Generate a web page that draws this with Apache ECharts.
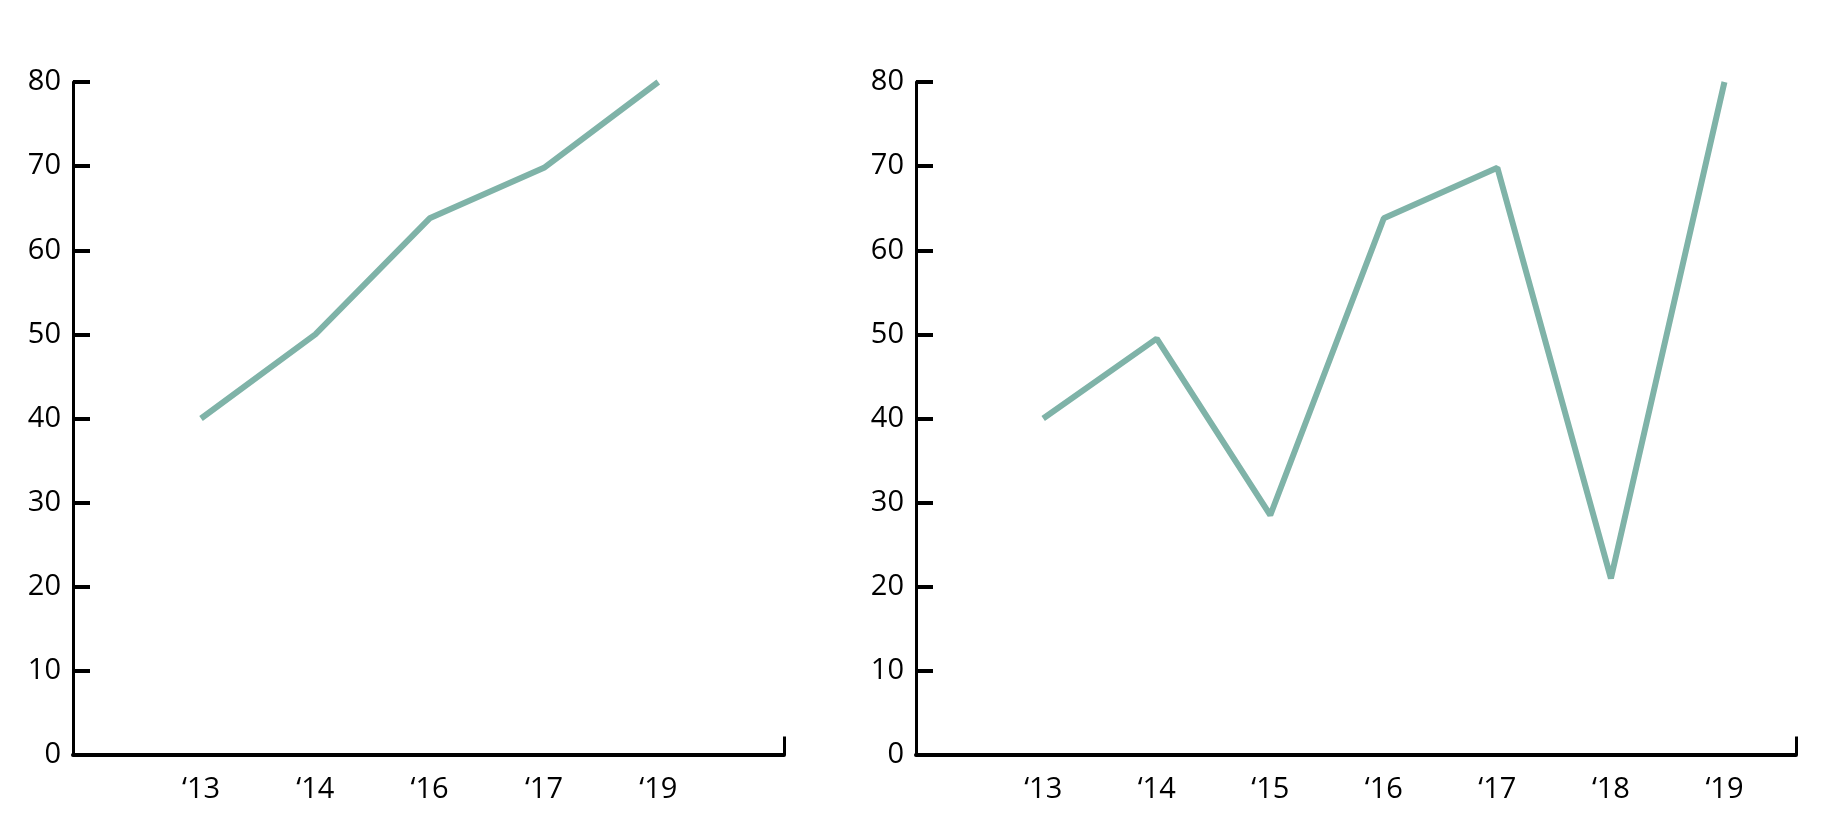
<!DOCTYPE html><html><head><meta charset="utf-8"><script src="https://cdn.jsdelivr.net/npm/echarts@6/dist/echarts.min.js"></script><style>html,body{margin:0;background:#fff}#c{width:1841px;height:836px}</style></head><body><div id="c"></div><script>
const leftCats=['‘13','‘14','‘16','‘17','‘19'];
const leftVals=[40,50,63.8,69.8,80];
const rightCats=['‘13','‘14','‘15','‘16','‘17','‘18','‘19'];
const rightVals=[40,49.5,28.5,63.8,69.8,21,80];
const yTicks=[0,10,20,30,40,50,60,70,80];
const font={fontFamily:'Open Sans',fontSize:29,color:'#000'};
function xAx(i,cats,min,max){return {gridIndex:i,type:'value',min:min,max:max,
 axisLine:{onZero:false,lineStyle:{color:'#000',width:4}},axisTick:{show:false},splitLine:{show:false},
 axisLabel:Object.assign({customValues:cats.map((c,k)=>k),formatter:v=>cats[Math.round(v)]||'',margin:20},font)};}
function yAx(i){return {gridIndex:i,type:'value',min:0,max:80,interval:10,
 axisLine:{show:true,onZero:false,lineStyle:{color:'#000',width:3}},axisTick:{inside:true,length:17,lineStyle:{color:'#000',width:4}},
 splitLine:{show:false},axisLabel:Object.assign({margin:12},font)};}
const ls={color:'#7fb3a8',width:6};
const chart=echarts.init(document.getElementById('c'));
chart.setOption({animation:false,
 grid:[{left:73,top:82,bottom:81,width:711},{left:916,top:82,bottom:81,width:880}],
 xAxis:[xAx(0,leftCats,-1.12,5.1),xAx(1,rightCats,-1.12,6.63)],
 yAxis:[yAx(0),yAx(1)],
 series:[{type:'line',xAxisIndex:0,yAxisIndex:0,data:leftVals.map((v,k)=>[k,v]),showSymbol:false,lineStyle:ls,
   markLine:{silent:true,symbol:'none',label:{show:false},lineStyle:{color:'#000',width:3,type:'solid'},data:[[{coord:[5.1,0]},{coord:[5.1,2.2]}]]}},
  {type:'line',xAxisIndex:1,yAxisIndex:1,data:rightVals.map((v,k)=>[k,v]),showSymbol:false,lineStyle:ls,
   markLine:{silent:true,symbol:'none',label:{show:false},lineStyle:{color:'#000',width:3,type:'solid'},data:[[{coord:[6.63,0]},{coord:[6.63,2.2]}]]}}]
});
</script></body></html>
